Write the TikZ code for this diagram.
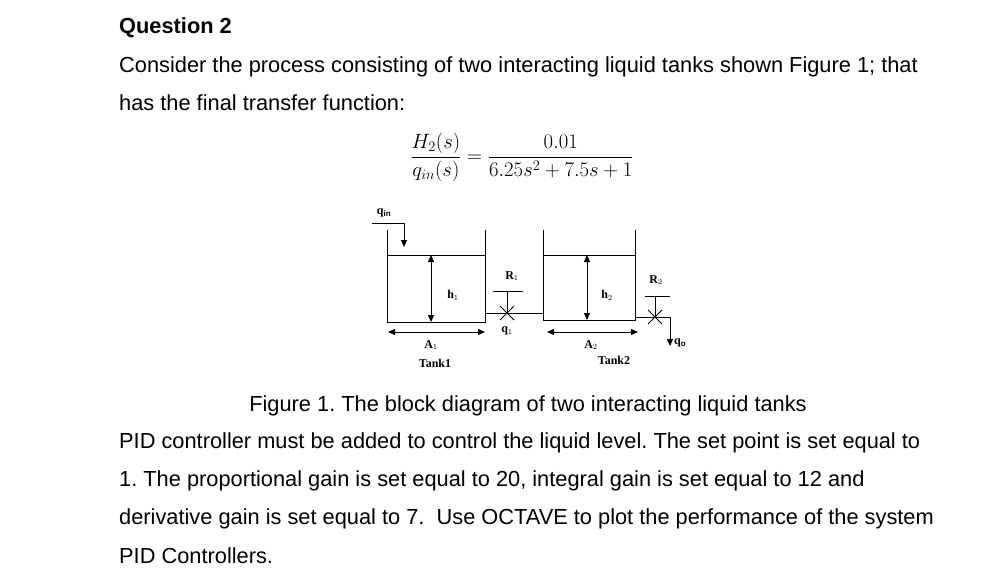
\documentclass[tikz,border=0pt]{standalone}
\usepackage{fontspec}
\setmainfont{Liberation Sans}
\newfontfamily\tnr{Liberation Serif}
\usetikzlibrary{arrows.meta}
\begin{document}
\frenchspacing
\begin{tikzpicture}[x=1pt,y=-1pt,
  body/.style={anchor=west,font=\fontsize{21.8}{24}\selectfont,inner sep=0},
  lab/.style={font=\tnr\bfseries\fontsize{12}{14}\selectfont,inner sep=0},
  ln/.style={line width=1pt},
  dar/.style={line width=1pt,{Triangle[length=7pt,width=6pt]}-{Triangle[length=7pt,width=6pt]}},
  sar/.style={line width=1pt,-{Triangle[length=7pt,width=6pt]}}]
\useasboundingbox (0,0) rectangle (1000,588);
\node[body,font=\bfseries\fontsize{21.8}{24}\selectfont] (q) at (119,28) {Question 2};
\node[body] (l1) at (119,67) {Consider the process consisting of two interacting liquid tanks shown Figure 1; that};
\node[body] (l2) at (119,103) {has the final transfer function:};
\node[inner sep=0] (eq) at (522,157) {\fontsize{22}{26}\selectfont$\displaystyle\frac{H_2(s)}{q_{in}(s)}=\frac{0.01}{6.25s^2+7.5s+1}$};
% tank 1
\draw[ln] (387,230) -- (387,322) -- (485,322) -- (485,230);
\draw[ln] (387,255) -- (485,255);
\draw[ln] (372,223) -- (404,223) coordinate (qa);
\draw[sar] (qa) -- (404,247);
\node[lab] (qin) at (384,213) {q$_{\mathbf{in}}$};
\draw[dar] (431,255) -- (431,322);
\node[lab] (h1) at (453,295) {h$_1$};
\draw[dar] (388,332) -- (485,332);
\node[lab] (a1) at (431,345) {A$_1$};
\node[lab] (t1) at (435,363) {Tank1};
% pipe 1 + valve
\draw[ln] (485,313) -- (543,313);
\draw[ln] (500,306) -- (514,320) (500,320) -- (514,306);
\draw[ln] (507,313) -- (507,291) (493,291) -- (523,291);
\node[lab] (r1) at (512,276) {R$_1$};
\node[lab] (q1) at (507,331) {q$_1$};
% tank 2
\draw[ln] (543,230) -- (543,320) -- (635,320) -- (635,230);
\draw[ln] (543,255) -- (635,255);
\draw[dar] (587,255) -- (587,320);
\node[lab] (h2) at (607,295) {h$_2$};
\draw[dar] (547,332) -- (638,332);
\node[lab] (a2) at (591,345) {A$_2$};
\node[lab] (t2) at (614,360) {Tank2};
% pipe 2 + valve
\draw[ln] (635,317) -- (670,317) coordinate (pb);
\draw[sar] (pb) -- (670,346);
\draw[ln] (648,310) -- (662,324) (648,324) -- (662,310);
\draw[ln] (655,317) -- (655,296) (645,296) -- (670,296);
\node[lab] (r2) at (656,280) {R$_2$};
\node[lab,anchor=west] (qo) at (674,343) {q$_{\mathbf{o}}$};
% caption and text
\node[inner sep=0,font=\fontsize{21.8}{24}\selectfont] (cap) at (528,406) {Figure 1. The block diagram of two interacting liquid tanks};
\node[body] (l3) at (119,443) {PID controller must be added to control the liquid level. The set point is set equal to};
\node[body] (l4) at (119,481) {1. The proportional gain is set equal to 20, integral gain is set equal to 12 and};
\node[body] (l5) at (119,519) {derivative gain is set equal to 7.\ \ Use OCTAVE to plot the performance of the system};
\node[body] (l6) at (119,556) {PID Controllers.};
\end{tikzpicture}
\end{document}
